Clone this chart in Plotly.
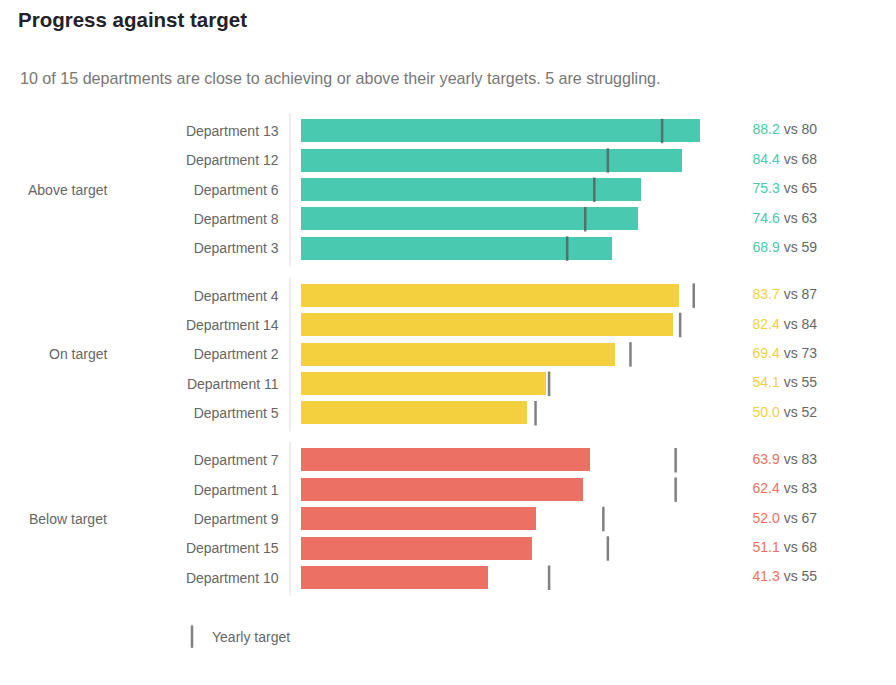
import plotly.graph_objects as go

# ---- data ----
groups = ["Above target", "On target", "Below target"]
group_colors = ["#48C9B0", "#F4D03F", "#EC7063"]

departments_above = ["Department 13", "Department 12", "Department 6", "Department 8", "Department 3"]
values_above = [88.2, 84.4, 75.3, 74.6, 68.9]
targets_above = [80, 68, 65, 63, 59]

departments_on = ["Department 4", "Department 14", "Department 2", "Department 11", "Department 5"]
values_on = [83.7, 82.4, 69.4, 54.1, 50.0]
targets_on = [87, 84, 73, 55, 52]

departments_below = ["Department 7", "Department 1", "Department 9", "Department 15", "Department 10"]
values_below = [63.9, 62.4, 52.0, 51.1, 41.3]
targets_below = [83, 83, 67, 68, 55]

title_text = "Progress against target"
subtitle_text = "10 of 15 departments are close to achieving or above their yearly targets. 5 are struggling."
legend_label = "Yearly target"

# ---- layout helpers ----
W, H = 880, 669
OFF = 8  # page body margin
FONT = "Liberation Sans, Arial, Helvetica, sans-serif"
GRAY = "#666666"
GROUP_STEP = 5.6  # rows per group incl. gap

all_groups = [
    (departments_above, values_above, targets_above),
    (departments_on, values_on, targets_on),
    (departments_below, values_below, targets_below),
]

def px_x(p):
    return (p - OFF) / W

def px_y(p):
    return 1 - (p - OFF) / H

fig = go.Figure()

tickvals, ticktext = [], []
tx, ty = [], []
lab_x, lab_y, lab_text = [], [], []
shapes, annotations = [], []

for gi, (names, vals, tgts) in enumerate(all_groups):
    pos = [gi * GROUP_STEP + i for i in range(len(names))]
    tickvals += pos
    ticktext += names
    fig.add_trace(go.Bar(
        x=vals, y=pos, orientation="h", width=0.78,
        marker=dict(color=group_colors[gi], line=dict(width=0)),
        showlegend=False, hoverinfo="skip",
    ))
    tx += tgts
    ty += pos
    for v, t, p in zip(vals, tgts, pos):
        lab_x.append(100)
        lab_y.append(p)
        lab_text.append(f'<span style="color:{group_colors[gi]}">{v:.1f}</span> vs {t}')
    # separator line
    shapes.append(dict(type="line", xref="paper", yref="y",
                       x0=px_x(290), x1=px_x(290), y0=pos[0] - 0.62, y1=pos[-1] + 0.62,
                       line=dict(color="#dddddd", width=1)))
    annotations.append(dict(xref="paper", yref="y", x=px_x(109), y=pos[len(pos) // 2],
                            text=groups[gi], showarrow=False, xanchor="right", yanchor="middle",
                            font=dict(family=FONT, size=14, color=GRAY)))

fig.add_trace(go.Scatter(
    x=tx, y=ty, mode="markers", name=legend_label,
    marker=dict(symbol="line-ns", size=17.5, color="rgba(85,85,85,0.75)",
                line=dict(color="rgba(85,85,85,0.75)", width=2.5)),
    hoverinfo="skip", showlegend=True,
))

fig.add_trace(go.Scatter(
    x=lab_x, y=lab_y, mode="text", text=lab_text, textposition="middle right",
    textfont=dict(family=FONT, size=14, color=GRAY),
    showlegend=False, hoverinfo="skip", cliponaxis=False,
))

annotations.append(dict(xref="paper", yref="paper", x=px_x(18), y=px_y(78),
                        text=subtitle_text, showarrow=False, xanchor="left", yanchor="middle",
                        font=dict(family=FONT, size=16.1, color="#777777")))

x0_px = 300.5
scale = 4.52
dom_right = 0.95
fig.update_layout(
    width=W, height=H,
    margin=dict(l=0, r=0, t=0, b=0),
    paper_bgcolor="white", plot_bgcolor="white",
    title=dict(text=f"<b>{title_text}</b>", x=px_x(18), xanchor="left", xref="paper",
               y=px_y(20), yanchor="middle", yref="paper",
               font=dict(family=FONT, size=20.5, color="#222228")),
    xaxis=dict(domain=[px_x(x0_px), dom_right], range=[0, (dom_right * W - (x0_px - OFF)) / scale],
               visible=False, fixedrange=True),
    yaxis=dict(domain=[px_y(595.5), px_y(113.36)], range=[15.8, -0.6],
               tickvals=tickvals, ticktext=ticktext, ticks="", ticklabelstandoff=21,
               tickfont=dict(family=FONT, size=14, color=GRAY),
               showgrid=False, zeroline=False, showline=False, automargin=False, fixedrange=True),
    bargap=0,
    shapes=shapes,
    annotations=annotations,
    legend=dict(x=px_x(172), y=px_y(637), xanchor="left", yanchor="middle",
                font=dict(family=FONT, size=14, color=GRAY), bgcolor="rgba(0,0,0,0)"),
    showlegend=True,
)

fig.write_html("out.html")
